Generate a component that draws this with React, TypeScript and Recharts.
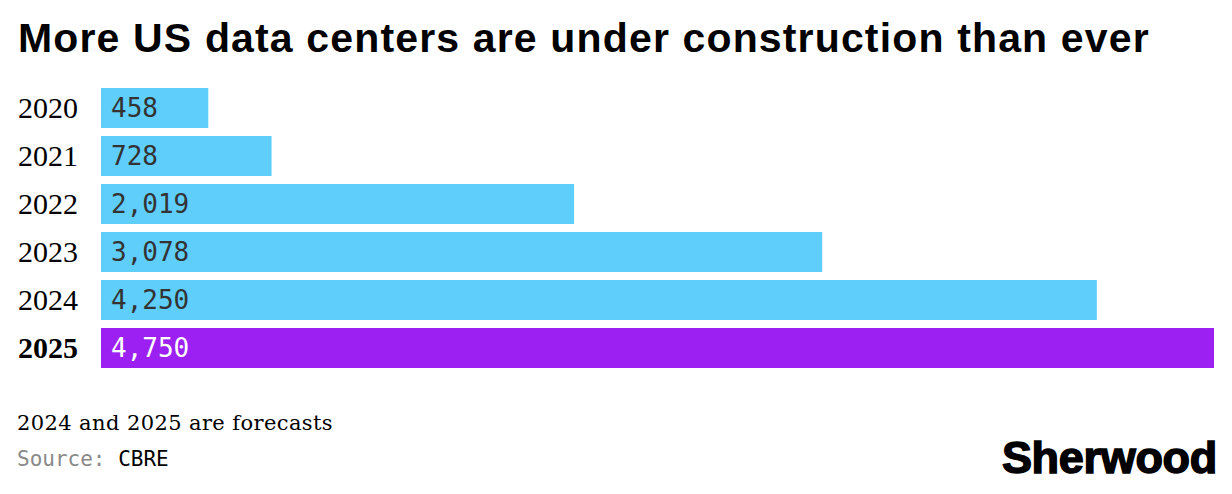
import { BarChart, Bar, XAxis, YAxis, Cell, LabelList } from "recharts";

const years = ["2020", "2021", "2022", "2023", "2024", "2025"];
const counts = [458, 728, 2019, 3078, 4250, 4750];
const highlightYear = "2025";

const BLUE = "#5fcefb";
const PURPLE = "#9d20f2";

const data = years.map((y, i) => ({ year: y, count: counts[i] }));

const YearTick = (props: any) => {
  const { y, payload } = props;
  const bold = payload.value === highlightYear;
  return (
    <text
      x={18}
      y={y + 9.5}
      textAnchor="start"
      fontFamily="'Liberation Serif', serif"
      fontSize={30}
      fontWeight={bold ? 700 : 400}
      fill="#000"
    >
      {payload.value}
    </text>
  );
};

const ValueLabel = (props: any) => {
  const { x, y, value, index } = props;
  const hi = years[index] === highlightYear;
  return (
    <text
      x={x + 10}
      y={y + 28.5}
      textAnchor="start"
      fontFamily="'DejaVu Sans Mono', monospace"
      fontSize={26}
      fill={hi ? "#fff" : "#333"}
    >
      {value.toLocaleString("en-US")}
    </text>
  );
};

export default function App() {
  return (
    <div style={{ position: "absolute", left: 0, top: 0, width: 1232, height: 494, background: "#fff", overflow: "hidden" }}>
      <div
        style={{
          position: "absolute", left: 18, top: 18, lineHeight: 1, fontSize: 41, letterSpacing: 1.15,
          fontFamily: "'Liberation Sans', Arial, sans-serif", fontWeight: 700, color: "#000", whiteSpace: "nowrap",
        }}
      >
        More US data centers are under construction than ever
      </div>

      <div style={{ position: "absolute", left: 0, top: 84 }}>
        <BarChart
          width={1232}
          height={288}
          data={data}
          layout="vertical"
          margin={{ top: 0, right: 18, bottom: 0, left: 18 }}
          barSize={40}
        >
          <XAxis type="number" dataKey="count" domain={[0, 4750]} hide />
          <YAxis type="category" dataKey="year" width={83} axisLine={false} tickLine={false} tick={<YearTick />} />
          <Bar dataKey="count" isAnimationActive={false}>
            {data.map((d) => (
              <Cell key={d.year} fill={d.year === highlightYear ? PURPLE : BLUE} />
            ))}
            <LabelList dataKey="count" content={<ValueLabel />} />
          </Bar>
        </BarChart>
      </div>

      <div
        style={{
          position: "absolute", left: 17, top: 413, lineHeight: 1, fontSize: 21, letterSpacing: 0.4,
          fontFamily: "'DejaVu Serif', serif", color: "#000", whiteSpace: "nowrap",
        }}
      >
        2024 and 2025 are forecasts
      </div>
      <div
        style={{
          position: "absolute", left: 17, top: 449, lineHeight: 1, fontSize: 21,
          fontFamily: "'DejaVu Sans Mono', monospace", whiteSpace: "nowrap",
        }}
      >
        <span style={{ color: "#8a8a8a" }}>Source:</span> <span style={{ color: "#000" }}>CBRE</span>
      </div>
      <div
        style={{
          position: "absolute", right: 15, top: 434.9, lineHeight: 1, fontSize: 45,
          fontFamily: "'Liberation Sans', Arial, sans-serif", fontWeight: 700, color: "#000",
          letterSpacing: -0.3, WebkitTextStroke: "1.5px #000", whiteSpace: "nowrap",
        }}
      >
        Sherwood
      </div>
    </div>
  );
}
